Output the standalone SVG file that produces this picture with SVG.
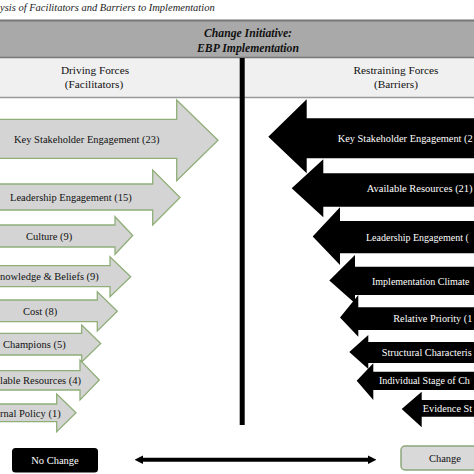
<svg xmlns="http://www.w3.org/2000/svg" width="474" height="474" viewBox="0 0 474 474">
<style>
.t{font-family:"Liberation Serif","Times New Roman",serif;font-size:10.5px;fill:#111}
.w{font-family:"Liberation Serif","Times New Roman",serif;font-size:10.5px;fill:#fff}
.ws{font-family:"Liberation Serif","Times New Roman",serif;font-size:10px;fill:#fff}
.h{font-family:"Liberation Serif","Times New Roman",serif;font-size:11.3px;fill:#111;text-anchor:middle}
.hb{font-family:"Liberation Serif","Times New Roman",serif;font-size:11.7px;font-weight:bold;font-style:italic;fill:#111;text-anchor:middle}
.ga{fill:#d4d4d4;stroke:#8fae78;stroke-width:1.3}
.ba{fill:#000}
</style>
<defs>
<marker id="ah" viewBox="0 0 10 10" refX="5" refY="5" markerWidth="2.2" markerHeight="2.4" orient="auto-start-reverse" markerUnits="strokeWidth">
<path d="M0,0 L10,5 L0,10 z" fill="#000"/>
</marker>
</defs>
<rect width="474" height="474" fill="#fff"/>
<text x="0" y="11" style="font-family:'Liberation Serif',serif;font-size:10.5px;font-style:italic;fill:#222">ysis of Facilitators and Barriers to Implementation</text>
<g id="header">
<rect x="0" y="20" width="474" height="38" fill="#a9a9a9"/>
<line x1="0" y1="20.5" x2="474" y2="20.5" stroke="#777" stroke-width="2"/>
<rect x="0" y="58" width="474" height="39" fill="#f0f0f0"/>
<line x1="0" y1="57.5" x2="474" y2="57.5" stroke="#777" stroke-width="1.5"/>
<line x1="0" y1="97.5" x2="474" y2="97.5" stroke="#999" stroke-width="1.5"/>
<text class="hb" x="248" y="37">Change Initiative:</text>
<text class="hb" x="248" y="52">EBP Implementation</text>
<text class="h" x="95" y="74">Driving Forces</text>
<text class="h" x="94" y="88">(Facilitators)</text>
<text class="h" x="396" y="74">Restraining Forces</text>
<text class="h" x="396" y="88">(Barriers)</text>
</g>
<g id="divider">
<rect x="239.7" y="58" width="5" height="367" fill="#000"/>
</g>
<g id="driving">
<g id="d1"><polygon class="ga" points="-5,119.3 176.7,119.3 176.7,100 218,140.3 176.7,180.7 176.7,158.3 -5,158.3"/><text class="t" x="14" y="142.5">Key Stakeholder Engagement (23)</text></g>
<g id="d2"><polygon class="ga" points="-5,184 152.7,184 152.7,170 180,197.5 152.7,225 152.7,210 -5,210"/><text class="t" x="10" y="200.5">Leadership Engagement (15)</text></g>
<g id="d3"><polygon class="ga" points="-5,225 115,225 115,216.7 132.7,235.5 115,254.3 115,247 -5,247"/><text class="t" x="26" y="239.5">Culture (9)</text></g>
<g id="d4"><polygon class="ga" points="-5,265.7 110,265.7 110,256.7 130.7,276.7 110,296.7 110,286.7 -5,286.7"/><text class="t" x="0" y="280">nowledge &amp; Beliefs (9)</text></g>
<g id="d5"><polygon class="ga" points="-5,300 97.3,300 97.3,291.7 117.3,311.3 97.3,331 97.3,321.7 -5,321.7"/><text class="t" x="23" y="314.5">Cost (8)</text></g>
<g id="d6"><polygon class="ga" points="-5,333.3 81.7,333.3 81.7,325 100.7,343.5 81.7,362 81.7,355 -5,355"/><text class="t" x="3" y="347.5">Champions (5)</text></g>
<g id="d7"><polygon class="ga" points="-5,370.7 80,370.7 80,360 99.3,380 80,400 80,390 -5,390"/><text class="t" x="0" y="384">lable Resources (4)</text></g>
<g id="d8"><polygon class="ga" points="-5,404 56.7,404 56.7,394 76,412.8 56.7,431.7 56.7,421.7 -5,421.7"/><text class="t" x="0" y="416.5">rnal Policy (1)</text></g>
</g>
<g id="restraining">
<g id="r1"><polygon class="ba" points="480,118.3 306.7,118.3 306.7,99.3 268.3,136.8 306.7,173.3 306.7,158.3 480,158.3"/><text class="w" x="337.7" y="141.5" textLength="135" lengthAdjust="spacingAndGlyphs">Key Stakeholder Engagement (2</text></g>
<g id="r2"><polygon class="ba" points="480,173.3 323.3,173.3 323.3,159.3 291.7,188.3 323.3,217.3 323.3,206.7 480,206.7"/><text class="w" x="366.7" y="192">Available Resources (21)</text></g>
<g id="r3"><polygon class="ba" points="480,221 340,221 340,207.3 312.7,236.5 340,265 340,253.3 480,253.3"/><text class="ws" x="366" y="240.5">Leadership Engagement (</text></g>
<g id="r4"><polygon class="ba" points="480,266.7 355,266.7 355,255 329.3,280.5 355,303.3 355,295 480,295"/><text class="ws" x="372" y="284.5">Implementation Climate</text></g>
<g id="r5"><polygon class="ba" points="480,307.3 358.3,307.3 358.3,295 340,317.5 358.3,336.7 358.3,330 480,330"/><text class="w" x="393.3" y="322" textLength="79" lengthAdjust="spacingAndGlyphs">Relative Priority (1</text></g>
<g id="r6"><polygon class="ba" points="480,342 368.3,342 368.3,335 349.3,352 368.3,369 368.3,363 480,363"/><text class="w" x="381.7" y="356" textLength="90" lengthAdjust="spacingAndGlyphs">Structural Characteris</text></g>
<g id="r7"><polygon class="ba" points="480,371.7 373.3,371.7 373.3,363.3 356.7,380.7 373.3,400 373.3,390 480,390"/><text class="ws" x="379" y="384">Individual Stage of Ch</text></g>
<g id="r8"><polygon class="ba" points="480,400 421.7,400 421.7,391.7 401.7,409 421.7,427.3 421.7,416.7 480,416.7"/><text class="w" x="422.7" y="412" textLength="49.5" lengthAdjust="spacingAndGlyphs">Evidence St</text></g>
</g>
<g id="connectors">
<line x1="139" y1="459.8" x2="372" y2="459.8" stroke="#000" stroke-width="4" marker-start="url(#ah)" marker-end="url(#ah)"/>
</g>
<g id="no-change">
<rect x="12" y="448" width="86" height="24.5" rx="3.5" fill="#000"/>
<text class="w" x="55" y="464" text-anchor="middle">No Change</text>
</g>
<g id="change">
<rect x="401" y="446" width="90" height="24" rx="4" fill="#d9d9d9" stroke="#8aa77a" stroke-width="1.5"/>
<text class="t" x="445" y="462" text-anchor="middle">Change</text>
</g>
</svg>
